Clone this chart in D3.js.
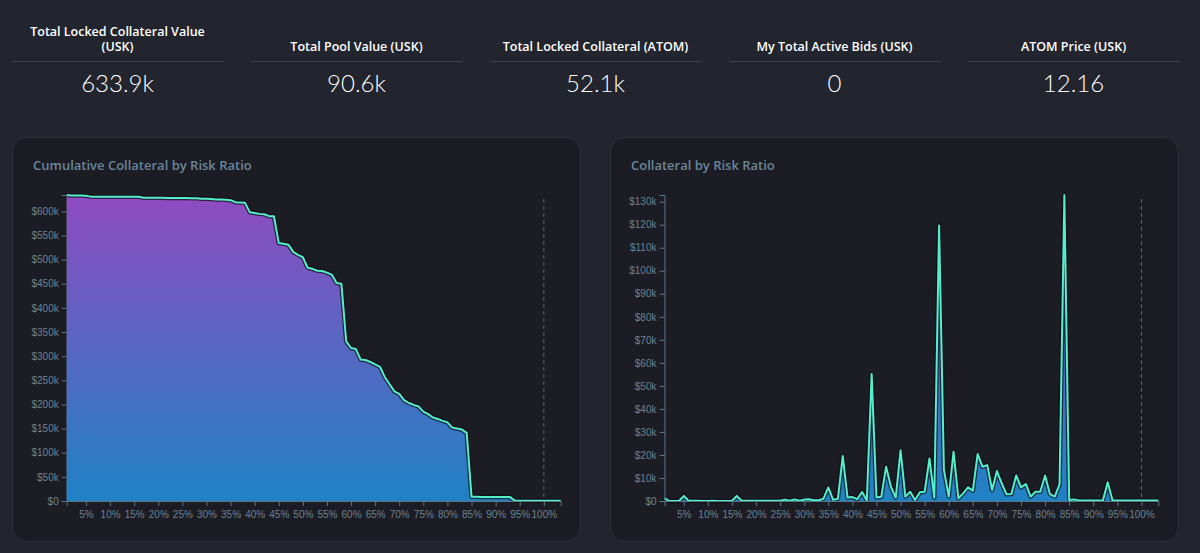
<!DOCTYPE html>
<html>
<head>
<meta charset="utf-8">
<script src="https://cdn.jsdelivr.net/npm/d3@7"></script>
<style>
  html, body { margin: 0; padding: 0; }
  body { width: 1200px; height: 553px; background: #22242e; position: relative; overflow: hidden; font-family: "Open Sans", sans-serif; }
  .stat { position: absolute; top: 0; width: 212px; height: 110px; color: #fff; }
  .stat-title { position: absolute; left: 0; right: 0; bottom: 56px; text-align: center; font-weight: 600; font-size: 12.5px; line-height: 15px; padding: 0 4px; }
  .stat-rule { position: absolute; left: 0; right: 0; top: 61px; height: 1px; background: #3c414c; }
  .stat-value { position: absolute; left: 0; right: 0; top: 69px; text-align: center; font-family: Lato, "Open Sans", sans-serif; font-weight: 300; font-size: 24px; line-height: 28px; }
  svg { position: absolute; left: 0; top: 0; }
  .tick text { fill: #6b8392; font-family: "Liberation Sans", Arial, sans-serif; font-size: 10px; }
  .tick line, .domain { stroke: #5b7686; }
</style>
</head>
<body>
<svg id="chart" width="1200" height="553"></svg>
<script>
// header stats
const statTitles = ["Total Locked Collateral Value (USK)", "Total Pool Value (USK)", "Total Locked Collateral (ATOM)", "My Total Active Bids (USK)", "ATOM Price (USK)"]
const statValues = ["633.9k", "90.6k", "52.1k", "0", "12.16"]

// risk ratio buckets, 1% .. 103%
const riskPct = d3.range(1, 104)

// cumulative collateral (k USK)
const cumulative = [
  633.9, 632.7, 632.7, 632.7, 632.5, 630.5, 630.5, 630.5, 630.5, 630.5,
  630.5, 630.4, 630.4, 630.4, 630.3, 630.2, 628.2, 628.1, 628.1, 628.0,
  628.0, 627.9, 627.9, 627.8, 627.8, 627.7, 627.1, 627.0, 626.3, 626.2,
  625.6, 624.8, 624.5, 624.2, 623.2, 619.0, 618.5, 617.6, 598.0, 596.5,
  594.8, 594.0, 590.0, 589.8, 534.6, 533.0, 531.0, 516.0, 510.0, 505.0,
  483.0, 481.0, 477.0, 476.5, 473.0, 469.0, 451.7, 450.0, 330.5, 317.0,
  314.7, 293.0, 292.0, 288.0, 283.0, 278.0, 257.0, 242.0, 227.0, 222.0,
  209.0, 203.0, 199.0, 196.0, 185.0, 180.0, 173.0, 170.0, 166.0, 163.0,
  152.0, 150.0, 148.0, 141.0, 8.9, 8.6, 8.5, 8.4, 8.3, 8.3,
  8.2, 8.2, 8.1, 0.5, 0.4, 0.4, 0.4, 0.4, 0.4, 0.4,
  0.4, 0.4, 0.4
]

// collateral per bucket (k USK)
const byRatio = [
  1.2, 0, 0, 0, 2.2, 0.1, 0.1, 0.1, 0, 0,
  0.1, 0, 0, 0, 0.1, 2.2, 0.1, 0.1, 0.1, 0.1,
  0.1, 0.1, 0.1, 0.1, 0.1, 0.6, 0.1, 0.7, 0.1, 0.6,
  0.8, 0.3, 0.3, 1.0, 5.9, 0.5, 1.0, 19.5, 1.5, 1.7,
  0.8, 3.9, 0.2, 55.2, 1.5, 1.8, 14.9, 6.2, 1.5, 22.0,
  1.9, 4.0, 0.4, 3.8, 4.0, 18.5, 1.5, 119.6, 13.5, 1.9,
  21.4, 1.2, 3.3, 5.9, 4.5, 20.4, 14.9, 15.6, 4.8, 13.0,
  7.7, 2.9, 3.0, 11.1, 5.9, 7.4, 1.9, 4.0, 4.0, 11.1,
  3.0, 1.9, 7.2, 132.9, 0.4, 0.7, 0.2, 0.2, 0.2, 0.2,
  0.2, 0.2, 8.1, 0.2, 0.2, 0.2, 0.2, 0.2, 0.2, 0.2,
  0.2, 0.2, 0.2
]

const xTicks = d3.range(5, 101, 5)
const leftYTicks = d3.range(0, 601, 50)
const rightYTicks = d3.range(0, 131, 10)

// header
statTitles.forEach(function(t, i) {
  const col = d3.select('body').append('div')
    .attr('class', 'stat')
    .style('left', (11.5 + i * 239) + 'px')
  col.append('div').attr('class', 'stat-title').text(t)
  col.append('div').attr('class', 'stat-rule')
  col.append('div').attr('class', 'stat-value').text(statValues[i])
})

const svg = d3.select('#chart')
const defs = svg.append('defs')

const plotTop = 195, plotBottom = 501

const grad = defs.append('linearGradient')
  .attr('id', 'areaGrad')
  .attr('gradientUnits', 'userSpaceOnUse')
  .attr('x1', 0).attr('x2', 0)
  .attr('y1', plotTop).attr('y2', plotBottom)
grad.append('stop').attr('offset', 0).attr('stop-color', '#8f4bc0')
grad.append('stop').attr('offset', 1).attr('stop-color', '#1f82c4')

function drawPanel(px, title, values, yTicks, xRange) {
  // panel box
  svg.append('rect')
    .attr('x', px + 0.5).attr('y', 137.5)
    .attr('width', 568).attr('height', 404)
    .attr('rx', 14)
    .attr('fill', '#1b1c24')
    .attr('stroke', '#2e313c')

  svg.append('text')
    .attr('x', px + 21).attr('y', 169.5)
    .attr('fill', '#6a8799')
    .style('font-family', '"Open Sans", sans-serif')
    .style('font-weight', 600)
    .style('font-size', '13px')
    .text(title)

  const x = d3.scaleLinear().domain([1, 103.5]).range(xRange)
  const y = d3.scaleLinear().domain([0, d3.max(values)]).range([plotBottom, plotTop])

  const pts = values.map((v, i) => [riskPct[i], v])
  // carry the last bucket out to the end of the axis
  pts.push([103.5, values[values.length - 1]])

  // 100% marker
  svg.append('line')
    .attr('x1', x(100)).attr('x2', x(100))
    .attr('y1', 199).attr('y2', plotBottom)
    .attr('stroke', '#5b6572')
    .attr('stroke-dasharray', '4,3')

  const area = d3.area()
    .x(d => x(d[0]))
    .y0(plotBottom)
    .y1(d => y(d[1]))
  const line = d3.line()
    .x(d => x(d[0]))
    .y(d => y(d[1]))

  svg.append('path')
    .datum(pts)
    .attr('d', area)
    .attr('fill', 'url(#areaGrad)')

  // dark halo under the line
  svg.append('path')
    .datum(pts)
    .attr('d', line)
    .attr('fill', 'none')
    .attr('stroke', '#0c0d12')
    .attr('stroke-opacity', 0.7)
    .attr('stroke-width', 4.5)
    .attr('stroke-linejoin', 'round')

  svg.append('path')
    .datum(pts)
    .attr('d', line)
    .attr('fill', 'none')
    .attr('stroke', '#54efca')
    .attr('stroke-width', 2)
    .attr('stroke-linejoin', 'round')

  svg.append('g')
    .attr('transform', `translate(0,${plotBottom})`)
    .call(d3.axisBottom(x).tickValues(xTicks).tickFormat(d => d + '%').tickSize(5).tickPadding(5))

  svg.append('g')
    .attr('transform', `translate(${xRange[0]},0)`)
    .call(d3.axisLeft(y).tickValues(yTicks).tickFormat(d => '$' + (d === 0 ? '0' : d + 'k')).tickSize(5).tickPadding(3))
}

drawPanel(12, 'Cumulative Collateral by Risk Ratio', cumulative, leftYTicks, [66.7, 560.7])
drawPanel(610, 'Collateral by Risk Ratio', byRatio, rightYTicks, [664.5, 1158.3])
</script>
</body>
</html>
